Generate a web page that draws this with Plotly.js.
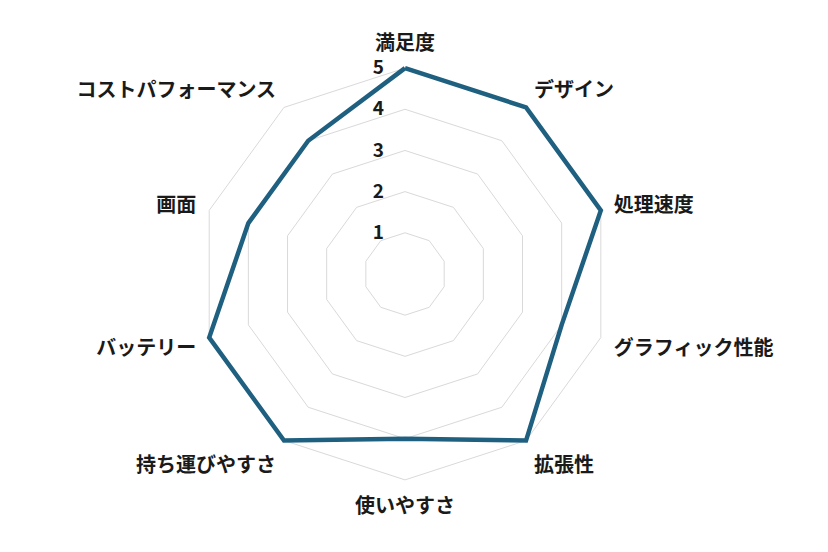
<!DOCTYPE html>
<html>
<head>
<meta charset="utf-8">
<script src="https://cdn.plot.ly/plotly-3.0.1.min.js"></script>
<style>
  html, body { margin: 0; padding: 0; background: #ffffff; }
  #chart { width: 828px; height: 552px; }
</style>
</head>
<body>
<div id="chart"></div>
<script>
// radar chart: product ratings
const categories = ['満足度', 'デザイン', '処理速度', 'グラフィック性能', '拡張性',
  '使いやすさ', '持ち運びやすさ', 'バッテリー', '画面', 'コストパフォーマンス'];
const scores = [5, 5, 5, 4, 5, 4, 5, 5, 4, 4];
const radialTicks = [1, 2, 3, 4, 5];

const FONT = '"Noto Sans CJK JP", "Noto Sans", sans-serif';
const LINE = '#1f6080';
const GRID = '#d9d9d9';

// close the polygon
const r = scores.concat([scores[0]]);
const theta = categories.concat([categories[0]]);

const traces = [{
  type: 'scatterpolar',
  r: r,
  theta: theta,
  mode: 'lines',
  line: { color: LINE, width: 4.5 },
  hoverinfo: 'skip'
}];

// range goes a bit past 5 so the thick line on the outer ring is not clipped;
// the outer ring itself is the gridline at 5
const layout = {
  width: 828,
  height: 552,
  margin: { t: 0, r: 0, b: 0, l: 0 },
  paper_bgcolor: '#ffffff',
  showlegend: false,
  font: { family: FONT, color: '#1a1a1a', size: 20 },
  polar: {
    domain: { x: [0.2355, 0.7428], y: [0.1232, 0.8841] },
    bgcolor: 'rgba(0,0,0,0)',
    gridshape: 'linear',
    radialaxis: {
      range: [0, 5.1],
      tickvals: radialTicks,
      ticktext: radialTicks.map(String),
      angle: 90,
      tickangle: 90,
      side: 'counterclockwise',
      showline: false,
      ticks: 'outside',
      ticklen: 14,
      tickcolor: 'rgba(0,0,0,0)',
      gridcolor: GRID,
      gridwidth: 1,
      tickfont: { size: 19, family: FONT, color: '#1a1a1a', weight: 'bold' }
    },
    angularaxis: {
      rotation: 90,
      direction: 'clockwise',
      showgrid: false,
      showline: false,
      ticks: 'outside',
      ticklen: 5,
      tickcolor: 'rgba(0,0,0,0)',
      tickfont: { size: 20, family: FONT, color: '#1a1a1a', weight: 'bold' }
    }
  }
};

Plotly.newPlot('chart', traces, layout, { displayModeBar: false, staticPlot: true });
</script>
</body>
</html>
